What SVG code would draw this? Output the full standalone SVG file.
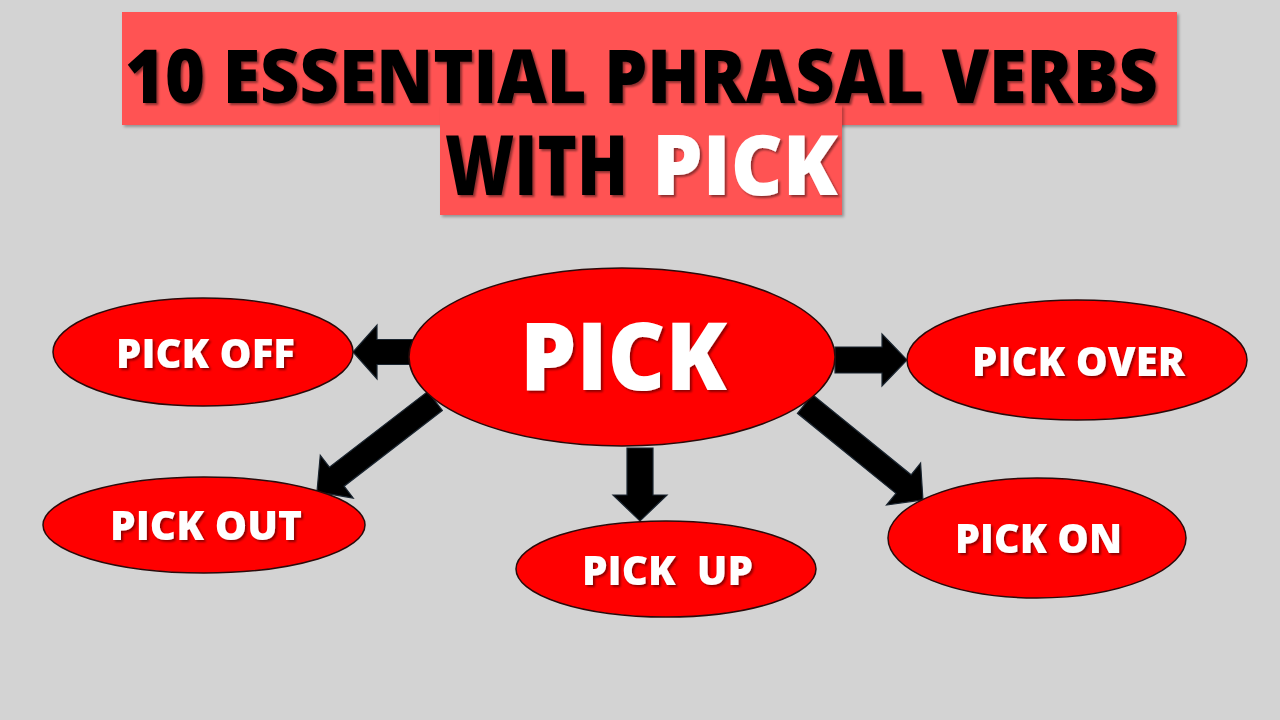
<svg xmlns="http://www.w3.org/2000/svg" width="1280" height="720" viewBox="0 0 1280 720">
<defs>
<filter id="sh" x="-10%" y="-10%" width="130%" height="140%"><feDropShadow dx="2" dy="2" stdDeviation="1.2" flood-color="#000" flood-opacity="0.45"/></filter>
<filter id="bsh" x="-5%" y="-5%" width="110%" height="120%"><feDropShadow dx="2" dy="2" stdDeviation="1.5" flood-color="#000" flood-opacity="0.3"/></filter>
</defs>
<style>
.bg{fill:#d3d3d3}
.box{fill:#ff5353}
.node{fill:#ff0000;stroke:#2a0a0a;stroke-width:1.5}
.t{font-family:"Open Sans","Liberation Sans",sans-serif;font-weight:800}
.wt{fill:#ffffff}
.bk{fill:#000000}
.arrow{fill:#000000;stroke:#1a2530;stroke-width:1.2}
</style>
<rect class="bg" x="0" y="0" width="1280" height="720"/>
<g id="title">
<rect class="box" x="122" y="12" width="1055" height="113" filter="url(#bsh)"/>
<rect class="box" x="440" y="105" width="402" height="110" filter="url(#bsh)"/>
<rect class="box" x="440" y="100" width="402" height="30"/>
<text class="t bk" x="125" y="103" font-size="74" textLength="1033" lengthAdjust="spacingAndGlyphs" filter="url(#sh)">10 ESSENTIAL PHRASAL VERBS</text>
<text class="t bk" x="445" y="195" font-size="84" textLength="183" lengthAdjust="spacingAndGlyphs" filter="url(#sh)">WITH</text>
<text class="t wt" x="652" y="195" font-size="84" textLength="186" lengthAdjust="spacingAndGlyphs" filter="url(#sh)">PICK</text>
</g>
<g id="connectors">
<polygon class="arrow" transform="translate(413,352) rotate(180)" points="0,-12.5 36,-12.5 36,-27 60,0 36,27 36,12.5 0,12.5"/>
<polygon class="arrow" transform="translate(835,360)" points="0,-13 47,-13 47,-26 72,0 47,26 47,13 0,13"/>
<polygon class="arrow" transform="translate(640,448) rotate(90)" points="0,-13 47,-13 47,-27 73,0 47,27 47,13 0,13"/>
<polygon class="arrow" transform="translate(435,401) rotate(142.4)" points="0,-12 124,-12 124,-27 149,0 124,27 124,12 0,12"/>
<polygon class="arrow" transform="translate(805,404) rotate(39.1)" points="0,-12 127,-12 127,-27 152,0 127,27 127,12 0,12"/>
</g>
<g id="node-pick">
<ellipse class="node" cx="622" cy="357" rx="213" ry="89"/>
<text class="t wt" x="520" y="390" font-size="94" textLength="207" lengthAdjust="spacingAndGlyphs" filter="url(#sh)">PICK</text>
</g>
<g id="node-pick-off">
<ellipse class="node" cx="203" cy="352" rx="150" ry="54"/>
<text class="t wt" x="116" y="368" font-size="40" textLength="179" lengthAdjust="spacingAndGlyphs" filter="url(#sh)">PICK OFF</text>
</g>
<g id="node-pick-over">
<ellipse class="node" cx="1077" cy="360" rx="170" ry="60"/>
<text class="t wt" x="972" y="376" font-size="40" textLength="213" lengthAdjust="spacingAndGlyphs" filter="url(#sh)">PICK OVER</text>
</g>
<g id="node-pick-out">
<ellipse class="node" cx="204" cy="525" rx="161" ry="48"/>
<text class="t wt" x="110" y="540" font-size="40" textLength="192" lengthAdjust="spacingAndGlyphs" filter="url(#sh)">PICK OUT</text>
</g>
<g id="node-pick-up">
<ellipse class="node" cx="666" cy="569" rx="150" ry="48"/>
<text class="t wt" x="582" y="585" font-size="40" textLength="171" lengthAdjust="spacingAndGlyphs" filter="url(#sh)" xml:space="preserve">PICK  UP</text>
</g>
<g id="node-pick-on">
<ellipse class="node" cx="1037" cy="538" rx="149" ry="60"/>
<text class="t wt" x="955" y="553" font-size="40" textLength="167" lengthAdjust="spacingAndGlyphs" filter="url(#sh)">PICK ON</text>
</g>
</svg>
